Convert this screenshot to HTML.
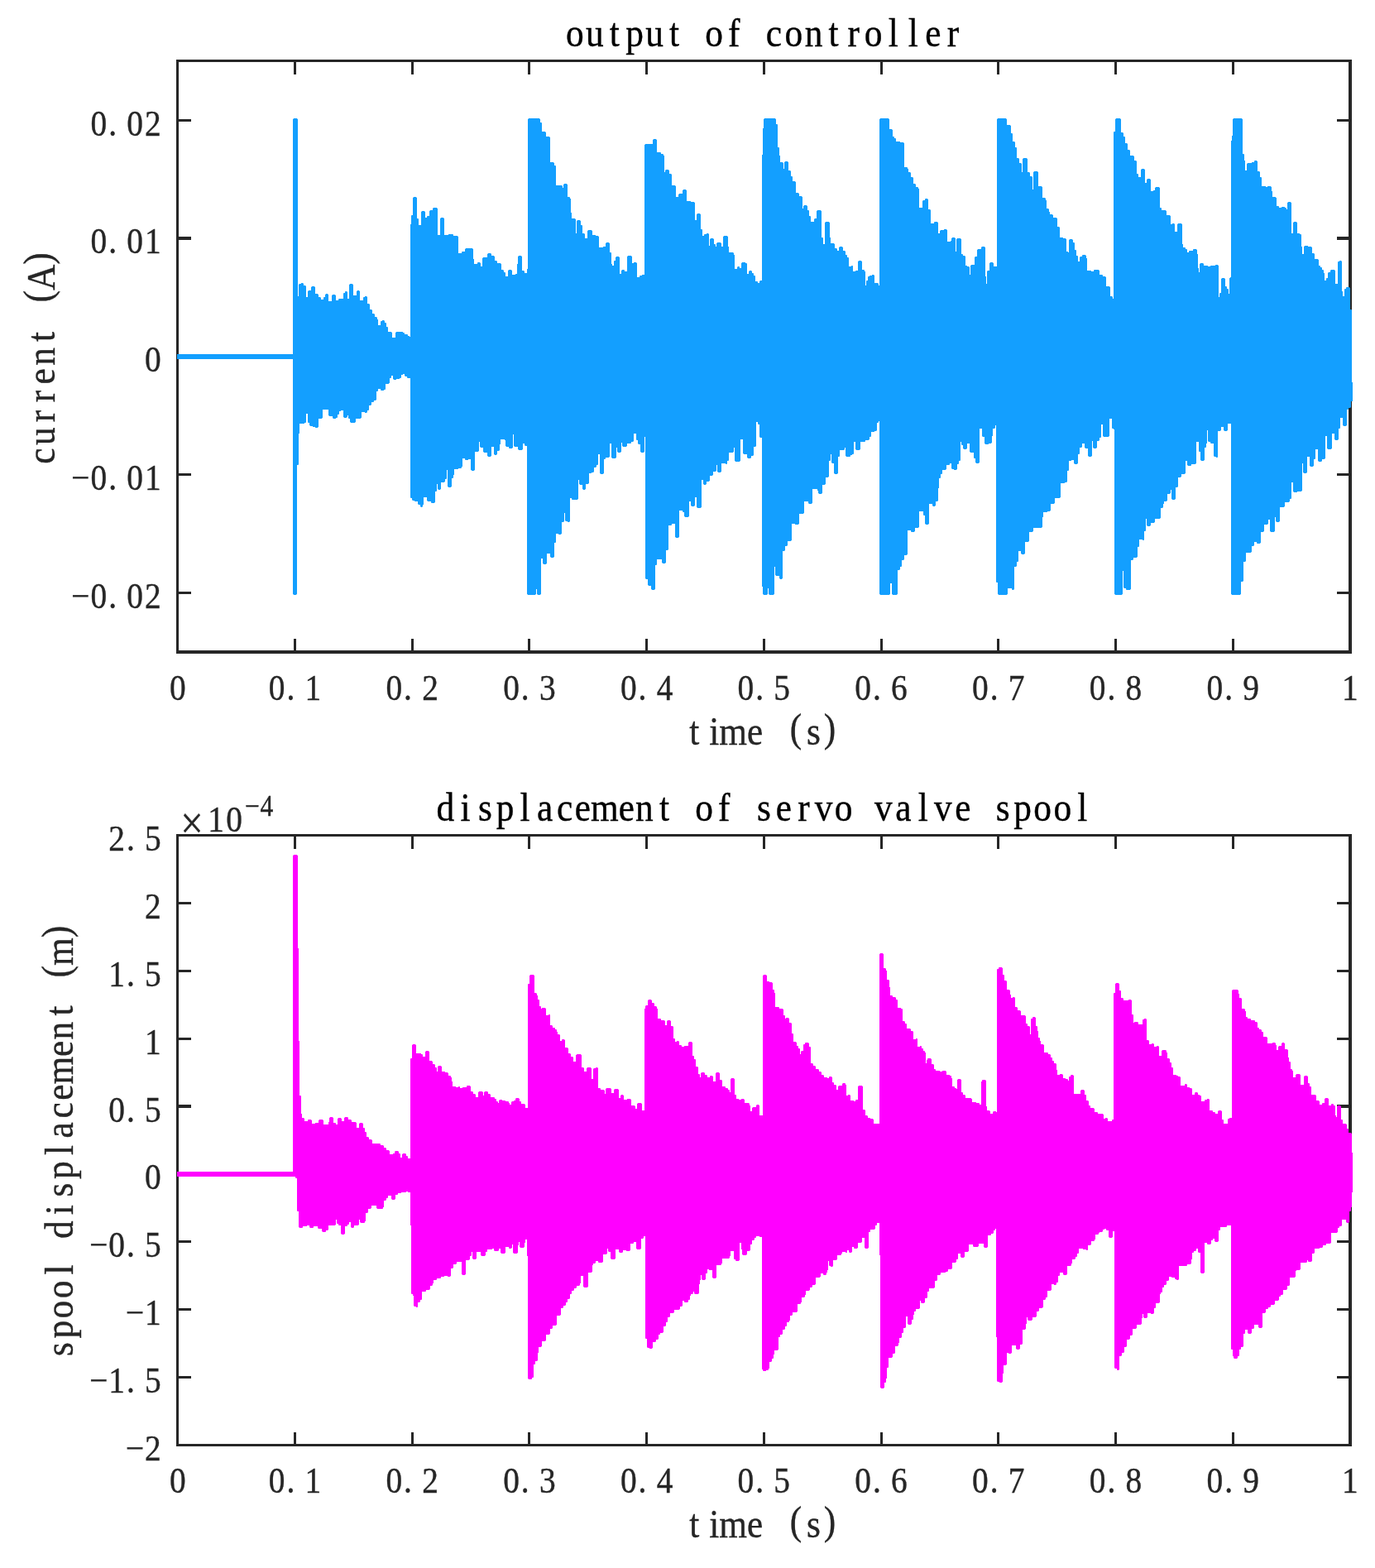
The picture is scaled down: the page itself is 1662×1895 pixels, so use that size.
<!DOCTYPE html>
<html lang="en"><head><meta charset="utf-8"><title>output of controller / displacement of servo valve spool</title>
<style>html,body{margin:0;padding:0;background:#fff}svg{display:block}text{font-family:"Liberation Serif",serif;fill:#262626;stroke:#262626;stroke-width:.4px}.c{text-anchor:middle}</style></head>
<body>
<svg width="1662" height="1895" viewBox="0 0 1662 1895">
<rect width="1662" height="1895" fill="#fff"/>
<g id="controller">
<path d="M213 72h3v718h-3zM1630 72h4v718h-4zM213 72h1421v3h-1421zM213 786h1421v4h-1421zM355 75h3v15h-3zM355 772h3v14h-3zM497 75h3v15h-3zM497 772h3v14h-3zM638 75h3v15h-3zM638 772h3v14h-3zM780 75h3v15h-3zM780 772h3v14h-3zM922 75h3v15h-3zM922 772h3v14h-3zM1064 75h3v15h-3zM1064 772h3v14h-3zM1205 75h3v15h-3zM1205 772h3v14h-3zM1347 75h3v15h-3zM1347 772h3v14h-3zM1489 75h3v15h-3zM1489 772h3v14h-3zM216 144h15v3h-15zM1616 144h14v3h-14zM216 286h15v4h-15zM1616 286h14v4h-14zM216 429h15v3h-15zM1616 429h14v3h-14zM216 572h15v3h-15zM1616 572h14v3h-14zM216 715h15v3h-15zM1616 715h14v3h-14z" fill="#262626"/>
<rect x="214" y="428" width="141" height="6" fill="#139FFF"/>
<path d="M354 144.2L355.2 143H358.8L360 144.2V358H361V344L362 343H364V342.3L364.3 342H366L367 343V345H369L370 346V359H372V352.2L373.2 351H376V347.2L377.2 346H379.8L381 347.2V355H383.8L385 356.2V359H387L388 360V362H391V359.7L391.7 359H393V356.2L394.2 355H395.8L397 356.2V364H401V357.2L402.2 356H404.8L406 357.2V363H409V361.7L409.7 361H415V354.7L415.7 354H417V352.7L417.7 352H419L420 353V361H422V344.2L423.2 343H425.8L427 344.2V357H431V352.2L432.2 351H433.8L435 352.2V363H439V359.7L439.7 359H441V358.3L441.3 358H443L444 359V367H446L447 368V374H449L450 375V379H452L453 380V383H455L456 384V386H456.7L457 386.3V393H460V388.7L460.7 388H462V387.3L462.3 387H464L465 388V390H466.3L467 390.7V395H468.3L469 395.7V401H472.8L474 402.2V408H478V402.2L479.2 401H486.7L487 401.3V402H488.3L489 402.7V404H492.3L493 404.7V406H494.7L495 406.3V407H496V271.3L496.3 271H497V260.7L497.7 260H499V239.2L500.2 238H502.8L504 239.2V264H505.3L506 264.7V272H509V256.2L510.2 255H512.8L514 256.2V263H516V261.7L516.7 261H519V255.2L520.2 254H523V252L524 251H527.8L529 252.2V284H532V264.2L533.2 263H535.8L537 264.2V284H542V283.3L542.3 283H547.3L548 283.7V285H552.8L554 286.2V306H558V304.7L558.7 304H562V301.2L563.2 300H570.8L572 301.2V313H572.7L573 313.3V319H577V317.7L577.7 317H579.8L581 318.2V322H583V312.2L584.2 311H589V307.2L590.2 306H593L594 307V309H596.8L598 310.2V315H600L601 316V318H604.8L606 319.2V326H608L609 327V329H610.3L611 329.7V334H614V327.2L615.2 326H617.8L619 327.2V332H623V331.3L623.3 331H625V319.3L625.3 319H626V310.2L627.2 309H629.8L631 310.2V327H633L634 328V330H637V325.3L637.3 325H638V144.2L639.2 143H651.8L653 144.2V148H654.3L655 148.7V159H658.8L660 160.2V165H663.8L665 166.2V196H668.8L670 197.2V200H671.3L672 200.7V224H679L680 225V227H681V223.2L682.2 222H684.8L686 223.2V238H688.3L689 238.7V240H689.7L690 240.3V257H690.7L691 257.3V264H694.8L696 265.2V282H697V267.2L698.2 266H700.8L702 267.2V272H703.3L704 272.7V282H706L707 283V288H710V279.2L711.2 278H714.8L716 279.2V284H719.7L720 284.3V285H722.8L724 286.2V299H729V298.3L729.3 298H732V294.2L733.2 293H735.8L737 294.2V305H738.3L739 305.7V319H739.7L740 319.3V321H742V315.7L742.7 315H744V311.2L745.2 310H747.8L749 311.2V331H751V327.2L752.2 326H754.3L755 326.7V328H758V310.2L759.2 309H762.8L764 310.2V318H766V317.3L766.3 317H768.8L770 318.2V335H773V333.7L773.7 333H776V332.3L776.3 332H779V175.2L780.2 174H789V169.2L790.2 168H792.8L794 169.2V184H798.3L799 184.7V186H801.3L802 186.7V188H802.7L803 188.3V208H804V206L805 205H807.8L809 206.2V210H811L812 211V224H815.8L817 225.2V238H820V235.2L821.2 234H825V230.2L826.2 229H828.8L830 230.2V243H834.7L835 243.3V244H838.8L840 245.2V266H842V259.2L843.2 258H845.8L847 259.2V277H848.3L849 277.7V285H851V283.7L851.7 283H854V282.3L854.3 282H856L857 283V297H858V289.2L859.2 288H861.8L863 289.2V295H864.3L865 295.7V298H866V294.2L867.2 293H870.8L872 294.2V298H874V286.2L875.2 285H878.8L880 286.2V298H880.7L881 298.3V305H886L887 306V308H887.7L888 308.3V325H891V323L892 322H893.3L894 322.7V324H896V318.2L897.2 317H900.7L901 317.3V318H902.3L903 318.7V331H905V328.2L906.2 327H908L909 328V330H910.3L911 330.7V333H912.3L913 333.7V340H915.3L916 340.7V342H918V340L919 339H921V187.3L921.3 187H922V155.3L922.3 155H923V144.2L924.2 143H936.8L938 144.2V150H939.3L940 150.7V178H941.3L942 178.7V188H942.7L943 188.3V196H945.8L947 197.2V204H948V196.2L949.2 195H951.8L953 196.2V206H955L956 207V213H957.3L958 213.7V219H960.8L962 220.2V233H964.8L966 234.2V237H968.8L970 238.2V252H971V249.2L972.2 248H974.8L976 249.2V254H977.3L978 254.7V261H979.3L980 261.7V268H984V265L985 264H987V255.2L988.2 254H991.8L993 255.2V287H994.3L995 287.7V295H997V269.2L998.2 268H1001.8L1003 269.2V287H1003.7L1004 287.3V294H1007.8L1009 295.2V300H1011L1012 301V303H1014V299.2L1015.2 298H1017.8L1019 299.2V303H1021L1022 304V308H1023.3L1024 308.7V311H1025.3L1026 311.7V322H1029V321.3L1029.3 321H1030.3L1031 321.7V328H1034V327.3L1034.3 327H1037V316.2L1038.2 315H1040.8L1042 316.2V326H1044.3L1045 326.7V328H1045.7L1046 328.3V345H1047V339.7L1047.7 339H1049V334.7L1049.7 334H1051V333.3L1051.3 333H1054V332.3L1054.3 332H1056L1057 333V342H1061L1062 343V345H1063V144.2L1064.2 143H1073.8L1075 144.2V156H1077.8L1079 157.2V165H1080.3L1081 165.7V167H1082.3L1083 167.7V171H1087.7L1088 171.3V172H1091.8L1093 173.2V202H1096.3L1097 202.7V204H1097.7L1098 204.3V208H1100L1101 209V214H1103L1104 215V222H1106L1107 223V226H1109.3L1110 226.7V228H1110.7L1111 228.3V251H1115V243L1116 242H1118V240.7L1118.7 240H1120.8L1122 241.2V253H1124L1125 254V270H1129V268.7L1129.7 268H1132.8L1134 269.2V282H1136V279.2L1137.2 278H1141V277.3L1141.3 277H1143.8L1145 278.2V292H1149V291.3L1149.3 291H1150V288.2L1151.2 287H1153.8L1155 288.2V304H1156V289.2L1157.2 288H1160.8L1162 289.2V307H1163.3L1164 307.7V309H1166L1167 310V321H1168.7L1169 321.3V322H1171L1172 323V332H1173V321.2L1174.2 320H1178V311L1179 310H1181V302.2L1182.2 301H1186V299L1187 298H1189.8L1191 299.2V334H1191.7L1192 334.3V343H1193V328L1194 327H1196V318.2L1197.2 317H1199.8L1201 318.2V322H1205V144.2L1206.2 143H1215.8L1217 144.2V151H1220.8L1222 152.2V161H1223.3L1224 161.7V171H1226L1227 172V178H1228.3L1229 178.7V191H1231L1232 192V197H1234L1235 198V208H1236V192.2L1237.2 191H1240.8L1242 192.2V208H1244L1245 209V213H1247L1248 214V229H1249V208.2L1250.2 207H1253.8L1255 208.2V225H1258.8L1260 226.2V239H1263L1264 240V242H1264.7L1265 242.3V252H1267L1268 253V256H1268.7L1269 256.3V259H1271.8L1273 260.2V263H1276.8L1278 264.2V274H1280L1281 275V287H1284.7L1285 287.3V288H1287.8L1289 289.2V304H1290.7L1291 304.3V305H1292V290.2L1293.2 289H1295.8L1297 290.2V293H1298.3L1299 293.7V302H1300.3L1301 302.7V309H1302.3L1303 309.7V316H1305V311L1306 310H1308V308.7L1308.7 308H1311.8L1313 309.2V312H1313.7L1314 312.3V327H1318.7L1319 327.3V328H1322V326.7L1322.7 326H1327.8L1329 327.2V332H1332.3L1333 332.7V334H1335.8L1337 335.2V346H1340.8L1342 347.2V358H1344L1345 359V361H1346V159.7L1346.7 159H1348V144.2L1349.2 143H1353.8L1355 144.2V160H1357L1358 161V165H1359.3L1360 165.7V173H1362L1363 174V181H1365L1366 182V188H1369.8L1371 189.2V194H1373L1374 195V210H1375.3L1376 210.7V214H1379V205.2L1380.2 204H1382.8L1384 205.2V221H1386V217.2L1387.2 216H1389.8L1391 217.2V231H1394V230.3L1394.3 230H1396V227.2L1397.2 226H1400.8L1402 227.2V251H1403.3L1404 251.7V254H1408.8L1410 255.2V260H1413.8L1415 261.2V271H1417V270.3L1417.3 270H1419L1420 271V280H1423V271.2L1424.2 270H1427.8L1429 271.2V295H1429.7L1430 295.3V299H1432.3L1433 299.7V301H1434.3L1435 301.7V305H1437V303.7L1437.7 303H1442V301.7L1442.7 301H1445.8L1447 302.2V307H1447.7L1448 307.3V324H1448.7L1449 324.3V329H1450V319.2L1451.2 318H1454L1455 319V321H1459.7L1460 321.3V322H1463V321.3L1463.3 321H1469V320.3L1469.3 320H1471.8L1473 321.2V359H1474V354.7L1474.7 354H1476V337.2L1477.2 336H1479.8L1481 337.2V346H1482.3L1483 346.7V349H1484.3L1485 349.7V355H1486V336.3L1486.3 336H1487V335.3L1487.3 335H1488V170.3L1488.3 170H1489V164.3L1489.3 164H1490V144.2L1491.2 143H1500.8L1502 144.2V186H1503.3L1504 186.7V194H1504.7L1505 194.3V206H1507V198.2L1508.2 197H1513V196.3L1513.3 196H1516V194.7L1516.7 194H1518.8L1520 195.2V207H1522L1523 208V214H1524.3L1525 214.7V225H1529.7L1530 225.3V226H1532V225.3L1532.3 225H1535.8L1537 226.2V231H1537.7L1538 231.3V238H1541.7L1542 238.3V239H1542.7L1543 239.3V249H1545.3L1546 249.7V251H1549V250.3L1549.3 250H1552.7L1553 250.3V251H1554.3L1555 251.7V253H1556V245.2L1557.2 244H1559.8L1561 245.2V282H1563V269.2L1564.2 268H1566.8L1568 269.2V282H1570.7L1571 282.3V283H1572.3L1573 283.7V298H1573.7L1574 298.3V307H1576V298.2L1577.2 297H1580.7L1581 297.3V298H1584.8L1586 299.2V306H1588L1589 307V313H1592.8L1594 314.2V321H1595.3L1596 321.7V323H1597.3L1598 323.7V326H1599.3L1600 326.7V330H1600.7L1601 330.3V339H1603V336.7L1603.7 336H1605V330L1606 329H1608V327L1609 326H1612.8L1614 327.2V343H1617V316.7L1617.7 316H1619V315.3L1619.3 315H1621L1622 316V352H1622.7L1623 352.3V358H1625V349.7L1625.7 349H1627V347.7L1627.7 347H1630.8L1632 348.2V374H1633.3L1634 374.7V484.7L1633.7 485H1633V492L1632 493H1630V494.3L1629.3 495H1628V513.8L1626.8 515H1624.2L1623 513.8V505H1620V517.3L1619.3 518H1618V530.8L1616.8 532H1614.2L1613 530.8V524H1610V541.8L1608.8 543H1605.2L1604 541.8V527H1602V553.8L1600.8 555H1598V557L1597 558H1594.2L1593 556.8V543H1590V554.3L1589.3 555H1588V562.8L1586.8 564H1584.2L1583 562.8V552H1580V570.8L1578.8 572H1576.2L1575 570.8V560H1574V592.8L1572.8 594H1568V594.7L1567.7 595H1564.2L1563 593.8V583H1561V602.3L1560.3 603H1559V605.8L1557.8 607H1553V611.8L1551.8 613H1547V629.8L1545.8 631H1543.2L1542 629.8V625H1541V641.8L1539.8 643H1536.2L1535 641.8V628H1533V632.8L1531.8 634H1528V641.8L1526.8 643H1524V655.8L1522.8 657H1519.7L1519 656.3V655H1516V659L1515 660H1513V666.8L1511.8 668H1506V678L1505 679H1503V702L1502 703H1500V717.8L1498.8 719H1489.2L1488 717.8V512H1484V519.8L1482.8 521H1480.2L1479 519.8V516H1476V519.8L1474.8 521H1472V552.3L1471.3 553H1470.3L1470 552.7V552H1468L1467 551V536H1463.7L1463 535.3V534H1461L1460 533V520H1459V535.7L1458.7 536H1458V540.3L1457.3 541H1456V555.8L1454.8 557H1452.2L1451 555.8V546H1449.7L1449 545.3V534H1446V559.8L1444.8 561H1440V562.3L1439.3 563H1436.2L1435 561.8V557H1433V571.8L1431.8 573H1428V575.8L1426.8 577H1424V588L1423 589H1421V602.8L1419.8 604H1417.2L1416 602.8V592H1415V595.8L1413.8 597H1411V604.8L1409.8 606H1407V608.7L1406.7 609H1406V613L1405 614H1403V625.8L1401.8 627H1396V630.8L1394.8 632H1391V634.8L1389.8 636H1387.2L1386 634.8V627H1385V641.3L1384.3 642H1383V652.3L1382.3 653H1381.3L1381 652.7V652H1377V660.3L1376.3 661H1375V672.8L1373.8 674H1370V676L1369 677H1367V711.8L1365.8 713H1361.7L1361 712.3V711H1359L1358 710V690H1357V717.8L1355.8 719H1348.2L1347 717.8V519H1346.3L1346 518.7V518H1344.7L1344 517.3V506H1341V526.8L1339.8 528H1334.2L1333 526.8V513H1331V528.3L1330.3 529H1329V532L1328 533H1326V540.8L1324.8 542H1322.2L1321 540.8V533H1320V550.8L1318.8 552H1316.2L1315 550.8V542H1312.2L1311 540.8V536H1308V540L1307 541H1305V548.3L1304.3 549H1303V559.8L1301.8 561H1299.2L1298 559.8V556H1295V556.7L1294.7 557H1292V568.3L1291.3 569H1290V582L1289 583H1287V583.7L1286.7 584H1282V600.8L1280.8 602H1275V607.8L1273.8 609H1270V616.8L1268.8 618H1266V618.7L1265.7 619H1261V624.7L1260.7 625H1260V636.8L1258.8 638H1249V641.8L1247.8 643H1244V653.8L1242.8 655H1239V668.8L1237.8 670H1235.2L1234 668.8V666H1231V678.3L1230.3 679H1229V684L1228 685H1226V712L1225 713H1223.7L1223 712.3V711H1218V717.8L1216.8 719H1207.2L1206 717.8V704H1204.7L1204 703.3V514H1203V517L1202 518H1200V526.7L1199.7 527H1199V534.8L1197.8 536H1195V536.7L1194.7 537H1191.2L1190 535.8V528H1188L1187 527V518H1184V558.8L1182.8 560H1180.2L1179 558.8V554H1177.7L1177 553.3V547H1173.2L1172 545.8V536H1169V541.8L1167.8 543H1165.2L1164 541.8V538H1162.7L1162 537.3V534H1161V556.3L1160.3 557H1159V560.3L1158.3 561H1157V566.8L1155.8 568H1153.3L1153 567.7V567H1151L1150 566V560H1148V561.3L1147.3 562H1144V566.8L1142.8 568H1139V572.3L1138.3 573H1137V577.3L1136.3 578H1135V589.7L1134.7 590H1134V605L1133 606H1131V610.8L1129.8 612H1128L1127 611V609H1123V632.8L1121.8 634H1119.2L1118 632.8V623H1116.7L1116 622.3V618H1111V636.8L1109.8 638H1106V641.8L1104.8 643H1101.7L1101 642.3V641H1097V669.8L1095.8 671H1093V676L1092 677H1090V684.3L1089.3 685H1088V688L1087 689H1085V717.8L1083.8 719H1079.2L1078 717.8V705H1076V717.8L1074.8 719H1064.2L1063 717.8V509H1062V510.3L1061.3 511H1060V520L1059 521H1057V521.7L1056.7 522H1053V527.3L1052.3 528H1051V530.8L1049.8 532H1046V533.3L1045.3 534H1040V542.8L1038.8 544H1035.2L1034 542.8V534H1032V548.3L1031.3 549H1030V549.7L1029.7 550H1028V551.3L1027.3 552H1023.2L1022 550.8V541H1021V543L1020 544H1015V551.3L1014.3 552H1013V571.8L1011.8 573H1009.2L1008 571.8V560H1006L1005 559V549H1004V556.3L1003.3 557H1002V575.8L1000.8 577H998V584.8L996.8 586H994V595.8L992.8 597H990.2L989 595.8V593H988.3L988 592.7V591H982V607.8L980.8 609H978L977 608V606H972V619.8L970.8 621H966V632.8L964.8 634H961.3L961 633.7V633H957V652.8L955.8 654H952V659L951 660H949V665L948 666H946V698.8L944.8 700H943.2L942 698.8V696H938.2L937 694.8V685H936V717.8L934.8 719H930.2L929 717.8V711H928V717.8L926.8 719H923.2L922 717.8V709H921.3L921 708.7V529H919L918 528V513H916.7L916 512.3V510H914V539L913 540H911V550L910 551H908V553L907 554H904.2L903 552.8V549H899.2L898 547.8V531H895V556.8L893.8 558H889.2L888 556.8V541H887V545.8L885.8 547H881V556.3L880.3 557H879V560.3L878.3 561H877.3L877 560.7V560H872V569.8L870.8 571H868.2L867 569.8V562H866V568.8L864.8 570H862V573.8L860.8 575H858V580.8L856.8 582H854V584.8L852.8 586H851.2L850 584.8V580H848V612.8L846.8 614H843.2L842 612.8V601H840V610.8L838.8 612H836.2L835 610.8V606H833V623.8L831.8 625H828.2L827 623.8V619H825.7L825 618.3V617H821V648.8L819.8 650H817.2L816 648.8V633H812V634.3L811.3 635H808V664L807 665H805V679.8L803.8 681H801.2L800 679.8V676H794V682.3L793.3 683H792V711.8L790.8 713H788.2L787 711.8V708H784.2L783 706.8V700H781L780 699V528H779V545.8L777.8 547H775.2L774 545.8V537H772L771 536V532H769.7L769 531.3V524H766V533L765 534H763V535.3L762.3 536H758V538.8L756.8 540H753.2L752 538.8V535H751V545.8L749.8 547H747.2L746 545.8V541H745V552.8L743.8 554H740.2L739 552.8V536H737V551.8L735.8 553H732V554.3L731.3 555H730V571.8L728.8 573H726.2L725 571.8V549H723V561.3L722.3 562H721V564L720 565H718V570L717 571H715V571.7L714.7 572H712V583.8L710.8 585H708V590.8L706.8 592H705.2L704 590.8V586H701.2L700 584.8V580H699V602.8L697.8 604H691.7L691 603.3V602H689V630L688 631H686.3L686 630.7V630H684L683 629V620H682V630L681 631H679V644.8L677.8 646H675.3L675 645.7V645H672V655.3L671.3 656H670V672.8L668.8 674H666.2L665 672.8V669H661V680.8L659.8 682H657.2L656 680.8V675H654V717.8L652.8 719H650.2L649 717.8V712H648V717.8L646.8 719H638.2L637 717.8V539H635L634 538V536H632V542.8L630.8 544H627.2L626 542.8V540H622.2L621 538.8V525H620V540.8L618.8 542H615.7L615 541.3V540H612.2L611 538.8V532H610.3L610 531.7V531H605V536.7L604.7 537H604V544L603 545H601V548.8L599.8 550H598.2L597 548.8V540H594V550.8L592.8 552H590.2L589 550.8V547H585.2L584 545.8V541H581.2L580 539.8V534H579V544.8L577.8 546H574V567.8L572.8 569H570.3L570 568.7V568H569.3L569 567.7V555H566V555.7L565.7 556H562.7L562 555.3V554H559V563.7L558.7 564H558V565.3L557.3 566H554V566.7L553.7 567H549V573.7L548.7 574H548V577.3L547.3 578H546V587.8L544.8 589H542.2L541 587.8V568H540V578.3L539.3 579H538V581.8L536.8 583H533V590.8L531.8 592H530.2L529 590.8V585H528V593.3L527.3 594H526V606.8L524.8 608H521.7L521 607.3V606H517.2L516 604.8V601H512V609.7L511.7 610H511V612L510 613H509L508 612V610H506L505 609V606H501.3L501 605.7V605H499L498 604V602H496.7L496 601.3V457H492.7L492 456.3V455H490L489 454V452H487V452.7L486.7 453H485V456.3L484.3 457H483V457.7L482.7 458H479V458.7L478.7 459H476.2L475 457.8V454H473V456.3L472.3 457H471V462.7L470.7 463H470V463.7L469.7 464H466V470.3L465.3 471H464V471.7L463.7 472H460.7L460 471.3V470H457V472.3L456.3 473H455V483L454 484H452V485.3L451.3 486H449V489L448 490H446V495.3L445.3 496H444V498L443 499H441.3L441 498.7V498H437V504.7L436.7 505H436V505.7L435.7 506H430V509.8L428.8 511H424.2L423 509.8V506H421.7L421 505.3V502H420V503.7L419.7 504H419V504.7L418.7 505H416.2L415 503.8V496H412V496.7L411.7 497H410V500.3L409.3 501H408V504.3L407.3 505H406V505.7L405.7 506H403L402 505V503H398.2L397 501.8V495H390V504.8L388.8 506H385V515.8L383.8 517H381.3L381 516.7V516H378.3L378 515.7V515H375.2L374 513.8V511H372.7L372 510.3V500H370V510.3L369.3 511H368V511.7L367.7 512H362V523.7L361.7 524H361V561.3L360.3 562H359V717.8L357.8 719H355.2L354 717.8ZM1634 462h1v23h-1z" fill="#139FFF"/>
<text class="c" x="772 798.7 825.4 852.2 878.9 905.6 932.4 959.1 985.8 1012.6 1039.3 1066 1092.8 1119.5 1146.3 1173 1199.7 1226.5 1253.2 1279.9" y="55.9" font-size="48.125" transform="scale(0.9 1)" style="fill:#000;stroke:#000">output of controller</text>
<text class="c" x="132.6 151.2 181.2 205.5" y="163.7" font-size="43.75" transform="scale(0.9 1)">0.02</text>
<text class="c" x="132.6 151.2 181.2 205.5" y="306.5" font-size="43.75" transform="scale(0.9 1)">0.01</text>
<text class="c" x="205.5" y="449.4" font-size="43.75" transform="scale(0.9 1)">0</text>
<text class="c" x="108.3 132.6 151.2 181.2 205.5" y="592.2" font-size="43.75" transform="scale(0.9 1)">−0.01</text>
<text class="c" x="108.3 132.6 151.2 181.2 205.5" y="735" font-size="43.75" transform="scale(0.9 1)">−0.02</text>
<text class="c" x="238.6" y="846.1" font-size="43.75" transform="scale(0.9 1)">0</text>
<text class="c" x="371.7 390.4 420.3" y="846.1" font-size="43.75" transform="scale(0.9 1)">0.1</text>
<text class="c" x="529.2 547.8 577.8" y="846.1" font-size="43.75" transform="scale(0.9 1)">0.2</text>
<text class="c" x="686.7 705.3 735.3" y="846.1" font-size="43.75" transform="scale(0.9 1)">0.3</text>
<text class="c" x="844.2 862.8 892.8" y="846.1" font-size="43.75" transform="scale(0.9 1)">0.4</text>
<text class="c" x="1001.6 1020.3 1050.2" y="846.1" font-size="43.75" transform="scale(0.9 1)">0.5</text>
<text class="c" x="1159.1 1177.8 1207.7" y="846.1" font-size="43.75" transform="scale(0.9 1)">0.6</text>
<text class="c" x="1316.6 1335.2 1365.2" y="846.1" font-size="43.75" transform="scale(0.9 1)">0.7</text>
<text class="c" x="1474.1 1492.7 1522.7" y="846.1" font-size="43.75" transform="scale(0.9 1)">0.8</text>
<text class="c" x="1631.5 1650.2 1680.2" y="846.1" font-size="43.75" transform="scale(0.9 1)">0.9</text>
<text class="c" x="1813.3" y="846.1" font-size="43.75" transform="scale(0.9 1)">1</text>
<text class="c" x="932.4 959.1 984.5 1013.9 1039.3 1068.8 1092.8 1114.3" dy="0 0 0 0 0 -4 4 -4" y="899.6" font-size="48.125" transform="scale(0.9 1)">time (s)</text>
<text class="c" x="-133.7 -106.9 -80.2 -53.5 -26.7 0 26.7 53.5 80.7 106.1 131.5" dy="0 0 0 0 0 0 0 0 -4 4 -4" y="0" font-size="48.125" transform="translate(65.6 430.9) rotate(-90) scale(0.9 1)">current (A)</text>
</g>
<g id="spool">
<path d="M213 1008h3v740h-3zM1630 1008h4v740h-4zM213 1008h1421v3h-1421zM213 1745h1421v3h-1421zM355 1011h3v15h-3zM355 1731h3v14h-3zM497 1011h3v15h-3zM497 1731h3v14h-3zM638 1011h3v15h-3zM638 1731h3v14h-3zM780 1011h3v15h-3zM780 1731h3v14h-3zM922 1011h3v15h-3zM922 1731h3v14h-3zM1064 1011h3v15h-3zM1064 1731h3v14h-3zM1205 1011h3v15h-3zM1205 1731h3v14h-3zM1347 1011h3v15h-3zM1347 1731h3v14h-3zM1489 1011h3v15h-3zM1489 1731h3v14h-3zM216 1090h15v3h-15zM1616 1090h14v3h-14zM216 1172h15v3h-15zM1616 1172h14v3h-14zM216 1254h15v3h-15zM1616 1254h14v3h-14zM216 1335h15v4h-15zM1616 1335h14v4h-14zM216 1417h15v4h-15zM1616 1417h14v4h-14zM216 1499h15v3h-15zM1616 1499h14v3h-14zM216 1581h15v3h-15zM1616 1581h14v3h-14zM216 1663h15v3h-15zM1616 1663h14v3h-14z" fill="#262626"/>
<rect x="214" y="1416" width="141.4" height="6" fill="#FF00FF"/>
<path d="M354 1034.2L355.2 1033H358.8L360 1034.2V1146H360.7L361 1146.3V1258H361.7L362 1258.3V1324H363.3L364 1324.7V1346H364.7L365 1346.3V1351H367L368 1352V1355H372V1353.7L372.7 1353H375.8L377 1354.2V1358H381V1357.3L381.3 1357H385V1354.2L386.2 1353H389.8L391 1354.2V1359H397V1356.3L397.3 1356H398V1351.2L399.2 1350H401.8L403 1351.2V1357H405.3L406 1357.7V1359H408V1352.2L409.2 1351H411.8L413 1352.2V1355H416V1351.2L417.2 1350H420L421 1351V1353H424L425 1354V1356H429.8L431 1357.2V1363H434V1358.2L435.2 1357H437.8L439 1358.2V1363H440.3L441 1363.7V1368H442.3L443 1368.7V1374H445L446 1375V1377H448.8L450 1378.2V1382H459.3L460 1382.7V1384H463L464 1385V1387H466L467 1388V1390H469.8L471 1391.2V1395H475V1394.3L475.3 1394H477V1392L478 1391H481L482 1392V1394H483.3L484 1394.7V1399H486V1395.2L487.2 1394H490L491 1395V1397H492.3L493 1397.7V1400H496V1279.7L496.7 1279H498V1263.2L499.2 1262H501.8L503 1263.2V1273H508.7L509 1273.3V1274H510.3L511 1274.7V1277H514V1271.2L515.2 1270H517.8L519 1271.2V1282H521.8L523 1283.2V1286H525L526 1287V1290H527.3L528 1290.7V1295H529V1289.2L530.2 1288H532.8L534 1289.2V1295H537.7L538 1295.3V1296H540.8L542 1297.2V1300H544.3L545 1300.7V1302H545.7L546 1302.3V1307H546.7L547 1307.3V1313H550.7L551 1313.3V1314H554V1313.3L554.3 1313H555.3L556 1313.7V1315H559V1314.3L559.3 1314H564V1312.7L564.7 1312H567.8L569 1313.2V1319H571L572 1320V1322H574L575 1323V1326H578V1320.2L579.2 1319H582.8L584 1320.2V1324H585V1320.2L586.2 1319H589L590 1320V1322H592L593 1323V1326H597.3L598 1326.7V1328H599.3L600 1328.7V1331H601.3L602 1331.7V1333H603V1330.2L604.2 1329H606.7L607 1329.3V1330H610.7L611 1330.3V1331H614.3L615 1331.7V1333H615.7L616 1333.3V1335H618V1332L619 1331H621V1330.3L621.3 1330H623V1328L624 1327H626.8L628 1328.2V1331H629.3L630 1331.7V1334H633.8L635 1335.2V1339H638V1189.7L638.7 1189H640V1179.2L641.2 1178H644.8L646 1179.2V1200H648L649 1201V1203H649.7L650 1203.3V1208H651.3L652 1208.7V1216H653.3L654 1216.7V1219H655V1218.3L655.3 1218H658.8L660 1219.2V1227H663V1226.3L663.3 1226H664.3L665 1226.7V1239H667L668 1240V1242H670.3L671 1242.7V1244H672.3L673 1244.7V1247H673.7L674 1247.3V1250H676L677 1251V1258H679V1256.7L679.7 1256H681.8L683 1257.2V1266H685.8L687 1267.2V1273H689L690 1274V1277H692L693 1278V1283H696V1275.3L696.3 1275H697V1274.3L697.3 1274H701.8L703 1275.2V1290H705L706 1291V1295H709V1291.2L710.2 1290H713.8L715 1291.2V1304H717V1292L718 1291H720V1290.3L720.3 1290H722L723 1291V1315H725.3L726 1315.7V1317H729.8L731 1318.2V1322H732V1316.2L733.2 1315H737.8L739 1316.2V1321H742V1317.2L743.2 1316H746.8L748 1317.2V1327H750V1324.2L751.2 1323H752.8L754 1324.2V1329H758V1328.3L758.3 1328H761.8L763 1329.2V1336H766.8L768 1337.2V1340H770V1334.2L771.2 1333H774.8L776 1334.2V1342H779V1219.3L779.3 1219H780V1216L781 1215H783V1209.2L784.2 1208H786.8L788 1209.2V1212H790L791 1213V1216H793L794 1217V1219H794.7L795 1219.3V1231H798.3L799 1231.7V1233H802.8L804 1234.2V1239H806V1234.2L807.2 1233H809.8L811 1234.2V1240H813L814 1241V1255H815.3L816 1255.7V1259H818V1258.3L818.3 1258H820L821 1259V1263H823.3L824 1263.7V1265H827V1264.3L827.3 1264H832V1260.2L833.2 1259H835.8L837 1260.2V1276H838.3L839 1276.7V1280H840.3L841 1280.7V1289H843L844 1290V1298H845.3L846 1298.7V1302H847V1297.2L848.2 1296H851L852 1297V1299H854L855 1300V1302H858V1300.7L858.7 1300H860.8L862 1301.2V1307H865V1297.2L866.2 1296H868.8L870 1297.2V1305H872L873 1306V1313H876.3L877 1313.7V1315H879.3L880 1315.7V1317H881.3L882 1317.7V1320H883V1304.2L884.2 1303H886.8L888 1304.2V1323H889.3L890 1323.7V1328H892.7L893 1328.3V1329H896V1328.3L896.3 1328H898.8L900 1329.2V1333H905L906 1334V1336H906.7L907 1336.3V1343H909V1339.2L910.2 1338H914V1336L915 1335H916.8L918 1336.2V1348H922V1179.2L923.2 1178H925.8L927 1179.2V1186H929.7L930 1186.3V1187H932.8L934 1188.2V1196H935.3L936 1196.7V1200H936.7L937 1200.3V1217H941.3L942 1217.7V1219H945.8L947 1220.2V1227H948.3L949 1227.7V1231H950V1230.3L950.3 1230H952.8L954 1231.2V1236H956L957 1237V1249H958.3L959 1249.7V1259H961.8L963 1260.2V1264H964.3L965 1264.7V1267H966.3L967 1267.7V1274H968V1271L969 1270H971V1262.7L971.7 1262H973V1260.7L973.7 1260H976.8L978 1261.2V1265H979.3L980 1265.7V1285H982L983 1286V1288H985L986 1289V1292H989L990 1293V1295H992L993 1296V1299H995L996 1300V1302H999.7L1000 1302.3V1303H1002V1301.7L1002.7 1301H1004.8L1006 1302.2V1308H1007.3L1008 1308.7V1311H1010L1011 1312V1317H1013V1313.2L1014.2 1312H1018V1310L1019 1309H1021.3L1022 1309.7V1311H1022.7L1023 1311.3V1324H1025V1323.3L1025.3 1323H1027L1028 1324V1330H1031.7L1032 1330.3V1331H1034V1329.7L1034.7 1329H1037V1313.2L1038.2 1312H1041.8L1043 1313.2V1341H1045L1046 1342V1348H1048L1049 1349V1351H1051.7L1052 1351.3V1352H1054.8L1056 1353.2V1358H1063V1153.2L1064.2 1152H1066.8L1068 1153.2V1170H1070L1071 1171V1173H1071.7L1072 1173.3V1184H1074L1075 1185V1193H1075.7L1076 1193.3V1203H1078.3L1079 1203.7V1205H1082L1083 1206V1208H1084.3L1085 1208.7V1218H1088.7L1089 1218.3V1219H1090.3L1091 1219.7V1234H1093L1094 1235V1237H1095.3L1096 1237.7V1243H1100L1101 1244V1246H1103L1104 1247V1256H1107V1255.3L1107.3 1255H1108.3L1109 1255.7V1265H1112V1264.3L1112.3 1264H1113.3L1114 1264.7V1267H1115.3L1116 1267.7V1270H1117.3L1118 1270.7V1272H1118.7L1119 1272.3V1285H1120V1281.3L1120.3 1281H1121V1279.7L1121.7 1279H1124.8L1126 1280.2V1286H1128L1129 1287V1292H1130.3L1131 1292.7V1294H1135.7L1136 1294.3V1295H1139V1294.3L1139.3 1294H1142.8L1144 1295.2V1299H1147.7L1148 1299.3V1300H1149.3L1150 1300.7V1303H1150.7L1151 1303.3V1313H1153.3L1154 1313.7V1315H1155.7L1156 1315.3V1316H1157V1305.2L1158.2 1304H1160.8L1162 1305.2V1320H1163.3L1164 1320.7V1323H1166L1167 1324V1327H1173.7L1174 1327.3V1328H1174.7L1175 1328.3V1332H1179.7L1180 1332.3V1333H1183.3L1184 1333.7V1335H1186V1307.3L1186.3 1307H1187V1305.7L1187.7 1305H1190.8L1192 1306.2V1337H1192.7L1193 1337.3V1342H1195.8L1197 1343.2V1346H1200V1344L1201 1343H1203.7L1204 1343.3V1344H1205V1171.7L1205.7 1171H1207V1169.7L1207.7 1169H1210.8L1212 1170.2V1178H1213.3L1214 1178.7V1185H1216L1217 1186V1196H1219.8L1221 1197.2V1202H1221.7L1222 1202.3V1206H1224V1205.3L1224.3 1205H1226L1227 1206V1217H1229L1230 1218V1221H1232.8L1234 1222.2V1227H1238.8L1240 1228.2V1237H1241.3L1242 1237.7V1240H1244L1245 1241V1250H1246V1231.7L1246.7 1231H1248V1229.7L1248.7 1229H1250.8L1252 1230.2V1240H1253.3L1254 1240.7V1246H1254.7L1255 1246.3V1254H1256.3L1257 1254.7V1258H1257.7L1258 1258.3V1262H1260.8L1262 1263.2V1272H1266.3L1267 1272.7V1274H1269L1270 1275V1278H1271.3L1272 1278.7V1282H1273.3L1274 1282.7V1285H1276L1277 1286V1293H1277.7L1278 1293.3V1299H1281V1298.3L1281.3 1298H1283.8L1285 1299.2V1303H1287.7L1288 1303.3V1304H1290.3L1291 1304.7V1306H1292V1301.7L1292.7 1301H1294V1299.7L1294.7 1299H1296.8L1298 1300.2V1322H1306V1318.2L1307.2 1317H1309.8L1311 1318.2V1323H1312.3L1313 1323.7V1330H1315L1316 1331V1336H1317.3L1318 1336.7V1339H1321.8L1323 1340.2V1344H1326.3L1327 1344.7V1346H1332.8L1334 1347.2V1352H1336V1351.3L1336.3 1351H1338L1339 1352V1355H1344V1353.7L1344.7 1353H1346V1200.7L1346.7 1200H1348V1189.2L1349.2 1188H1351.8L1353 1189.2V1197H1354.3L1355 1197.7V1206H1357L1358 1207V1209H1364V1208.3L1364.3 1208H1366.8L1368 1209.2V1226H1369.3L1370 1226.7V1236H1371V1235.3L1371.3 1235H1375L1376 1236V1238H1381V1232.7L1381.7 1232H1383V1231.3L1383.3 1231H1385L1386 1232V1257H1388L1389 1258V1262H1392V1261.3L1392.3 1261H1394L1395 1262V1265H1398V1264.3L1398.3 1264H1400L1401 1265V1276H1404V1270.2L1405.2 1269H1409L1410 1270V1272H1410.7L1411 1272.3V1279H1413L1414 1280V1284H1415.3L1416 1284.7V1290H1417.3L1418 1290.7V1299H1421.7L1422 1299.3V1300H1423.7L1424 1300.3V1301H1426L1427 1302V1312H1432V1310.7L1432.7 1310H1434L1435 1311V1314H1437.7L1438 1314.3V1315H1440L1441 1316V1323H1444V1321L1445 1320H1447L1448 1321V1323H1449.7L1450 1323.3V1324H1451.3L1452 1324.7V1331H1456V1329.7L1456.7 1329H1459V1328.3L1459.3 1328H1461L1462 1329V1342H1465.3L1466 1342.7V1344H1468.3L1469 1344.7V1346H1472V1343.2L1473.2 1342H1475.8L1477 1343.2V1353H1478.3L1479 1353.7V1358H1484V1352.7L1484.7 1352H1486V1351.3L1486.3 1351H1489V1197.2L1490.2 1196H1495.8L1497 1197.2V1201H1497.7L1498 1201.3V1206H1500L1501 1207V1219H1504L1505 1220V1222H1505.7L1506 1222.3V1229H1507.3L1508 1229.7V1231H1511.3L1512 1231.7V1233H1516.3L1517 1233.7V1235H1519L1520 1236V1242H1521.3L1522 1242.7V1244H1524L1525 1245V1247H1526.3L1527 1247.7V1253H1530.8L1532 1254.2V1261H1538V1260.3L1538.3 1260H1541L1542 1261V1263H1542.7L1543 1263.3V1269H1545V1265.2L1546.2 1264H1549V1261.2L1550.2 1260H1551.8L1553 1261.2V1268H1555.8L1557 1269.2V1278H1557.7L1558 1278.3V1283H1559.3L1560 1283.7V1292H1561.3L1562 1292.7V1294H1562.7L1563 1294.3V1302H1566V1299.2L1567.2 1298H1570.8L1572 1299.2V1311H1576V1301.2L1577.2 1300H1579.8L1581 1301.2V1309H1582.3L1583 1309.7V1313H1584.3L1585 1313.7V1323H1589.8L1591 1324.2V1330H1593.8L1595 1331.2V1335H1598V1333.7L1598.7 1333H1601V1328.2L1602.2 1327H1604.8L1606 1328.2V1336H1609V1334.7L1609.7 1334H1611.3L1612 1334.7V1336H1613.3L1614 1336.7V1348H1614.7L1615 1348.3V1350H1616V1337.2L1617.2 1336H1619.8L1621 1337.2V1353H1622.3L1623 1353.7V1358H1626.8L1628 1359.2V1364H1629.3L1630 1364.7V1369H1632.8L1634 1370.2V1458.7L1633.7 1459H1633V1463.3L1632.3 1464H1631V1476.8L1629.8 1478H1628.2L1627 1476.8V1474H1622V1481L1621 1482H1619V1483.3L1618.3 1484H1617V1488.8L1615.8 1490H1609V1501.8L1607.8 1503H1603V1504.3L1602.3 1505H1599V1507L1598 1508H1595V1508.7L1594.7 1509H1589V1514L1588 1515H1586V1523.8L1584.8 1525H1581.7L1581 1524.3V1523H1580V1525L1579 1526H1572V1533.8L1570.8 1535H1567V1535.7L1566.7 1536H1566V1542.8L1564.8 1544H1559V1553L1558 1554H1556V1557.8L1554.8 1559H1551V1564L1550 1565H1548V1566.3L1547.3 1567H1546V1570.8L1544.8 1572H1541V1575.8L1539.8 1577H1536V1579L1535 1580H1533V1581.3L1532.3 1582H1530V1585.8L1528.8 1587H1526V1603.8L1524.8 1605H1522.2L1521 1603.8V1601H1516V1605L1515 1606H1513V1610.8L1511.8 1612H1509.2L1508 1610.8V1607H1505V1611.3L1504.3 1612H1503V1627L1502 1628H1500V1630.3L1499.3 1631H1498V1638.3L1497.3 1639H1496V1641L1495 1642H1492L1491 1641V1639H1490.3L1490 1638.7V1631H1488.7L1488 1630.3V1481H1483V1482.3L1482.3 1483H1475V1486.3L1474.3 1487H1473V1499.8L1471.8 1501H1469.2L1468 1499.8V1497H1466V1498.3L1465.3 1499H1464V1502.8L1462.8 1504H1459.7L1459 1503.3V1502H1456V1537.8L1454.8 1539H1452.2L1451 1537.8V1514H1449L1448 1513V1509H1446V1511L1445 1512H1443V1513.3L1442.3 1514H1441V1521.7L1440.7 1522H1440V1526.8L1438.8 1528H1435V1529.3L1434.3 1530H1425V1546L1424 1547H1422.3L1422 1546.7V1546H1420.7L1420 1545.3V1544H1416.3L1416 1543.7V1543H1413V1547L1412 1548H1410V1552L1409 1553H1407V1555.3L1406.3 1556H1405V1561.3L1404.3 1562H1403V1563.7L1402.7 1564H1402V1573.8L1400.8 1575H1397V1580.3L1396.3 1581H1395V1586.8L1393.8 1588H1391.3L1391 1587.7V1587H1387V1591.8L1385.8 1593H1383.2L1382 1591.8V1588H1381V1592.7L1380.7 1593H1380V1599.8L1378.8 1601H1374V1604.8L1372.8 1606H1369V1613L1368 1614H1366V1617.8L1364.8 1619H1362V1627L1361 1628H1359V1634L1358 1635H1356V1638L1355 1639H1353V1655L1352 1656H1350.7L1350 1655.3V1654H1348L1347 1653V1488H1345V1494.8L1343.8 1496H1341.2L1340 1494.8V1487H1337.7L1337 1486.3V1485H1335V1485.7L1334.7 1486H1333V1488L1332 1489H1329V1489.7L1328.7 1490H1328V1491.3L1327.3 1492H1324V1497.7L1323.7 1498H1323V1499.3L1322.3 1500H1319V1503.8L1317.8 1505H1315V1510.3L1314.3 1511H1313.3L1313 1510.7V1510H1309.3L1309 1509.7V1509H1304V1514.3L1303.3 1515H1302V1518.3L1301.3 1519H1300V1521L1299 1522H1296V1526.7L1295.7 1527H1295V1529L1294 1530H1290V1539.8L1288.8 1541H1286L1285 1540V1538H1281V1541.3L1280.3 1542H1279V1549.3L1278.3 1550H1277V1552L1276 1553H1274.3L1274 1552.7V1552H1271V1558.8L1269.8 1560H1266V1567.3L1265.3 1568H1264V1570L1263 1571H1261V1579.7L1260.7 1580H1260V1580.7L1259.7 1581H1256V1584L1255 1585H1253V1590.8L1251.8 1592H1248V1594.8L1246.8 1596H1243.2L1242 1594.8V1592H1241V1599.7L1240.7 1600H1240V1605.8L1238.8 1607H1236V1624L1235 1625H1233V1629.8L1231.8 1631H1229.2L1228 1629.8V1626H1223V1634.8L1221.8 1636H1219.3L1219 1635.7V1635H1217V1648.8L1215.8 1650H1213V1659.7L1212.7 1660H1212V1669.8L1210.8 1671H1208.3L1208 1670.7V1670H1206L1205 1669V1616H1204.3L1204 1615.7V1485H1203V1486.3L1202.3 1487H1201V1490L1200 1491H1198V1492.3L1197.3 1493H1194V1506.8L1192.8 1508H1190.2L1189 1506.8V1503H1183V1505.8L1181.8 1507H1177L1176 1506V1504H1171V1511.8L1169.8 1513H1166V1518.8L1164.8 1520H1162.2L1161 1518.8V1515H1158V1521.3L1157.3 1522H1156V1524.8L1154.8 1526H1151V1532.8L1149.8 1534H1146V1536L1145 1537H1143V1537.7L1142.7 1538H1137V1540L1136 1541H1133V1547L1132 1548H1130V1555.8L1128.8 1557H1123V1560.3L1122.3 1561H1121V1568L1120 1569H1118V1573.8L1116.8 1575H1114L1113 1574V1572H1112V1580.8L1110.8 1582H1107V1584.3L1106.3 1585H1105V1588.7L1104.7 1589H1104V1594.3L1103.3 1595H1102V1599.8L1100.8 1601H1098.2L1097 1599.8V1591H1095V1604L1094 1605H1092V1610.3L1091.3 1611H1090V1616L1089 1617H1087V1622.7L1086.7 1623H1086V1625.8L1084.8 1627H1082V1635L1081 1636H1079V1639.8L1077.8 1641H1074V1652.3L1073.3 1653H1072V1665.7L1071.7 1666H1071V1670.3L1070.3 1671H1069V1676.8L1067.8 1678H1065.2L1064 1676.8V1517H1063.3L1063 1516.7V1478H1060V1480.3L1059.3 1481H1058V1484.8L1056.8 1486H1052V1488.3L1051.3 1489H1050V1507.8L1048.8 1509H1046.2L1045 1507.8V1496H1042V1500.8L1040.8 1502H1037V1507.8L1035.8 1509H1032.7L1032 1508.3V1507H1030V1512.8L1028.8 1514H1027L1026 1513V1511H1024V1513.3L1023.3 1514H1022.3L1022 1513.7V1513H1018V1514.7L1017.7 1515H1017V1516.3L1016.3 1517H1012V1521.8L1010.8 1523H1007V1530L1006 1531H1004.3L1004 1530.7V1530H1002.7L1002 1529.3V1524H1001V1534.7L1000.7 1535H1000V1537.7L999.7 1538H999V1540L998 1541H995.7L995 1540.3V1539H992V1542.7L991.7 1543H991V1543.7L990.7 1544H986V1551.8L984.8 1553H982V1555L981 1556H979V1558.8L977.8 1560H974V1564.7L973.7 1565H973V1567L972 1568H969V1573.7L968.7 1574H968V1575.3L967.3 1576H964V1584.8L962.8 1586H958V1589L957 1590H955V1595.7L954.7 1596H954V1597.3L953.3 1598H951V1602.3L950.3 1603H949V1606L948 1607H946V1612L945 1613H943V1615.3L942.3 1616H941V1630.8L939.8 1632H936V1636.7L935.7 1637H935V1641.3L934.3 1642H933V1645L932 1646H930V1653.7L929.7 1654H929V1655.3L928.3 1656H926V1656.7L925.7 1657H922.7L922 1656.3V1655H921.3L921 1654.7V1495H918.3L918 1494.7V1494H914V1495.3L913.3 1496H912V1498L911 1499H909V1503.3L908.3 1504H907V1510.8L905.8 1512H903V1515.8L901.8 1517H898.2L897 1515.8V1510H896.3L896 1509.7V1502H894V1522.8L892.8 1524H889.7L889 1523.3V1522H887.7L887 1521.3V1512H883V1517.7L882.7 1518H882V1520L881 1521H873V1526.7L872.7 1527H872V1528.3L871.3 1529H866V1543.8L864.8 1545H862.2L861 1543.8V1535H857.3L857 1534.7V1534H855V1538.3L854.3 1539H853V1545.8L851.8 1547H849.2L848 1545.8V1541H847V1546.7L846.7 1547H846V1551.7L845.7 1552H845V1562.8L843.8 1564H840L839 1563V1561H838V1563L837 1564H835V1565.7L834.7 1566H834V1570.3L833.3 1571H832V1573L831 1574H827.7L827 1573.3V1572H825V1578L824 1579H822V1581.8L820.8 1583H815V1585.8L813.8 1587H810V1591L809 1592H807V1597.3L806.3 1598H805V1602L804 1603H802V1609.8L800.8 1611H798V1612.3L797.3 1613H796V1618L795 1619H793V1621L792 1622H789V1628.8L787.8 1630H785.3L785 1629.7V1629H783L782 1628V1618H780.7L780 1617.3V1494H778V1496L777 1497H775V1508.8L773.8 1510H770.2L769 1508.8V1501H766V1502.3L765.3 1503H762V1510.8L760.8 1512H757.3L757 1511.7V1511H753V1513L752 1514H749.2L748 1512.8V1510H744V1520.8L742.8 1522H739.2L738 1520.8V1513H736L735 1512V1509H734V1514.8L732.8 1516H729V1524.8L727.8 1526H723.7L723 1525.3V1524H720V1526L719 1527H717V1528.7L716.7 1529H716V1536.8L714.8 1538H711V1554.8L709.8 1556H706.2L705 1554.8V1542H702V1550.7L701.7 1551H701V1553L700 1554H697V1556L696 1557H694V1559L693 1560H691V1563.3L690.3 1564H689V1569L688 1570H686V1573.3L685.3 1574H684V1577L683 1578H681V1580L680 1581H678V1588.8L676.8 1590H673V1600.8L671.8 1602H668V1605L667 1606H665V1611.8L663.8 1613H660V1619.8L658.8 1621H655V1626.8L653.8 1628H651V1634.7L650.7 1635H650V1644L649 1645H647V1648.3L646.3 1649H645V1664.3L644.3 1665H643V1666.3L642.3 1667H639.2L638 1665.8V1518H637.3L637 1517.7V1498H635V1501.7L634.7 1502H634V1506.8L632.8 1508H629.2L628 1506.8V1501H627V1504.7L626.7 1505H626V1513.8L624.8 1515H621.2L620 1513.8V1504H619V1507.8L617.8 1509H615.7L615 1508.3V1507H611V1513.8L609.8 1515H606.2L605 1513.8V1509H603V1511L602 1512H598L597 1511V1509H595V1509.7L594.7 1510H589V1512.3L588.3 1513H587V1516.8L585.8 1518H582.2L581 1516.8V1513H576V1520.8L574.8 1522H572.2L571 1520.8V1513H570V1517.3L569.3 1518H568V1521.8L566.8 1523H563V1539.8L561.8 1541H559.2L558 1539.8V1525H552V1527L551 1528H548V1532L547 1533H545V1541.8L543.8 1543H541.3L541 1542.7V1542H537V1542.7L536.7 1543H533V1544.3L532.3 1545H528V1546.3L527.3 1547H524V1550.7L523.7 1551H523V1553L522 1554H520V1557.8L518.8 1559H515V1560.3L514.3 1561H510V1570.3L509.3 1571H508V1573L507 1574H505V1579.3L504.3 1580H503.3L503 1579.7V1579H501L500 1578V1566H499.3L499 1565.7V1564H497.7L497 1563.3V1481H496.3L496 1480.7V1441H493.3L493 1440.7V1440H491V1440.7L490.7 1441H485V1441.7L484.7 1442H481V1443.3L480.3 1444H478V1448.8L476.8 1450H474.2L473 1448.8V1445H469V1447.3L468.3 1448H467V1450L466 1451H464V1458.7L463.7 1459H463V1460.3L462.3 1461H456.2L455 1459.8V1457H449V1459.8L447.8 1461H445V1465L444 1466H442V1475.7L441.7 1476H441V1477.3L440.3 1478H436.2L435 1476.8V1474H434V1479.8L432.8 1481H428V1483L427 1484H425.2L424 1482.8V1477H422V1479.3L421.3 1480H420V1481.3L419.3 1482H417V1490.8L415.8 1492H413.2L412 1490.8V1481H409.7L409 1480.3V1479H407.7L407 1478.3V1474H406V1479.8L404.8 1481H397V1486L396 1487H394V1488.3L393.3 1489H390.2L389 1487.8V1485H385L384 1484V1482H379V1483.3L378.3 1484H375L374 1483V1481H371V1481.7L370.7 1482H366V1483.3L365.3 1484H362.2L361 1482.8V1464H359.7L359 1463.3V1424H357.7L357 1423.3V1422H355L354 1421ZM1634 1393h1v48h-1z" fill="#FF00FF"/>
<text class="c" x="598.2 624.9 651.6 678.4 705.1 731.8 758.6 782.7 812.1 841.5 865.5 892.3 919 945.7 972.5 999.2 1025.9 1052.7 1079.4 1106.2 1132.9 1159.6 1186.4 1213.1 1239.8 1266.6 1293.3 1320 1346.8 1373.5 1400.2 1427 1453.7" y="992" font-size="48.125" transform="scale(0.9 1)" style="fill:#000;stroke:#000">displacement of servo valve spool</text>
<text class="c" font-size="43.75" transform="scale(0.9 1)"><tspan x="257.7" y="1013.3" font-size="54">×</tspan><tspan x="290.2 314.6" y="1004.9">10</tspan><tspan x="338.7 358.3" y="986.4" font-size="35">−4</tspan></text>
<text class="c" x="156.9 175.5 205.5" y="1028" font-size="43.75" transform="scale(0.9 1)">2.5</text>
<text class="c" x="205.5" y="1109.9" font-size="43.75" transform="scale(0.9 1)">2</text>
<text class="c" x="156.9 175.5 205.5" y="1191.8" font-size="43.75" transform="scale(0.9 1)">1.5</text>
<text class="c" x="205.5" y="1273.7" font-size="43.75" transform="scale(0.9 1)">1</text>
<text class="c" x="156.9 175.5 205.5" y="1355.6" font-size="43.75" transform="scale(0.9 1)">0.5</text>
<text class="c" x="205.5" y="1437.4" font-size="43.75" transform="scale(0.9 1)">0</text>
<text class="c" x="132.6 156.9 175.5 205.5" y="1519.3" font-size="43.75" transform="scale(0.9 1)">−0.5</text>
<text class="c" x="181.2 205.5" y="1601.2" font-size="43.75" transform="scale(0.9 1)">−1</text>
<text class="c" x="132.6 156.9 175.5 205.5" y="1683.1" font-size="43.75" transform="scale(0.9 1)">−1.5</text>
<text class="c" x="181.2 205.5" y="1765" font-size="43.75" transform="scale(0.9 1)">−2</text>
<text class="c" x="238.6" y="1804.5" font-size="43.75" transform="scale(0.9 1)">0</text>
<text class="c" x="371.7 390.4 420.3" y="1804.5" font-size="43.75" transform="scale(0.9 1)">0.1</text>
<text class="c" x="529.2 547.8 577.8" y="1804.5" font-size="43.75" transform="scale(0.9 1)">0.2</text>
<text class="c" x="686.7 705.3 735.3" y="1804.5" font-size="43.75" transform="scale(0.9 1)">0.3</text>
<text class="c" x="844.2 862.8 892.8" y="1804.5" font-size="43.75" transform="scale(0.9 1)">0.4</text>
<text class="c" x="1001.6 1020.3 1050.2" y="1804.5" font-size="43.75" transform="scale(0.9 1)">0.5</text>
<text class="c" x="1159.1 1177.8 1207.7" y="1804.5" font-size="43.75" transform="scale(0.9 1)">0.6</text>
<text class="c" x="1316.6 1335.2 1365.2" y="1804.5" font-size="43.75" transform="scale(0.9 1)">0.7</text>
<text class="c" x="1474.1 1492.7 1522.7" y="1804.5" font-size="43.75" transform="scale(0.9 1)">0.8</text>
<text class="c" x="1631.5 1650.2 1680.2" y="1804.5" font-size="43.75" transform="scale(0.9 1)">0.9</text>
<text class="c" x="1813.3" y="1804.5" font-size="43.75" transform="scale(0.9 1)">1</text>
<text class="c" x="932.4 959.1 984.5 1013.9 1039.3 1068.8 1092.8 1114.3" dy="0 0 0 0 0 -4 4 -4" y="1858.1" font-size="48.125" transform="scale(0.9 1)">time (s)</text>
<text class="c" x="-280.7 -254 -227.3 -200.5 -173.8 -147 -120.3 -93.6 -66.8 -40.1 -13.4 13.4 40.1 64.2 93.6 123 147 173.8 200.5 226.4 253.2 279.9" dy="0 0 0 0 0 0 0 0 0 0 0 0 0 0 0 0 0 0 0 -4 4 -4" y="0" font-size="48.125" transform="translate(88.3 1378) rotate(-90) scale(0.9 1)">spool displacement (m)</text>
</g>
</svg>
</body></html>
